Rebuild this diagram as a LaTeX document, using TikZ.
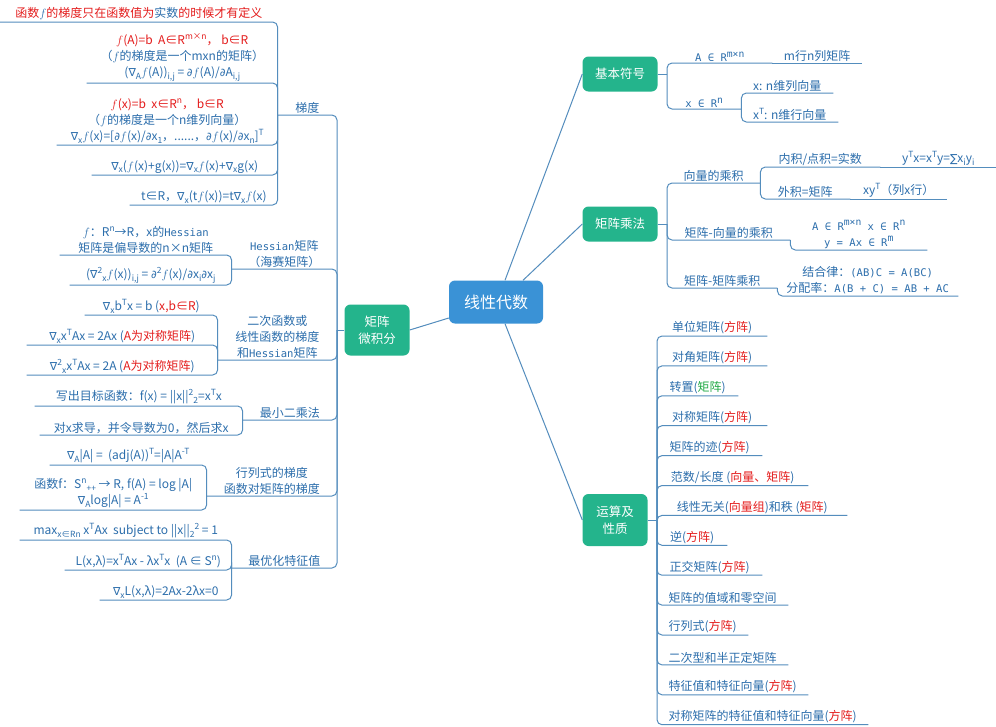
\documentclass[tikz,border=0pt]{standalone}
\usepackage{fontspec}
\setmainfont{Noto Sans CJK SC}
\newfontfamily\monof[Scale=0.88]{DejaVu Sans Mono}
\newfontfamily\symf[Scale=0.92]{DejaVu Sans}

\definecolor{linkblue}{RGB}{84,141,189}
\definecolor{txtblue}{RGB}{44,110,172}
\definecolor{hlred}{RGB}{228,28,28}
\definecolor{hlgreen}{RGB}{34,170,70}
\definecolor{boxteal}{RGB}{36,180,140}
\definecolor{boxblue}{RGB}{58,146,214}

\newcommand\rd[1]{\textcolor{hlred}{#1}}
\newcommand\gn[1]{\textcolor{hlgreen}{#1}}
\newcommand\su[1]{\raisebox{0.42em}{\fontsize{8.5}{9}\selectfont#1}}
\newcommand\sd[1]{\raisebox{-0.22em}{\fontsize{8.5}{9}\selectfont#1}}
\newcommand\msu[1]{\raisebox{0.4em}{\fontsize{11}{11}\selectfont#1}}
\newcommand\fn{\ensuremath{f}}
\newcommand\pd{{\symf ∂}}
\newcommand\nb{{\symf ∇}}

\tikzset{
  link/.style={draw=linkblue, line width=1pt, rounded corners=5pt},
  hub/.style={fill=boxblue, text=white, rounded corners=6pt, minimum width=94pt,
    minimum height=43pt, font=\fontsize{16}{19}\selectfont},
  topic/.style={fill=boxteal, text=white, rounded corners=6pt, minimum width=75pt,
    minimum height=35pt, align=center, font=\fontsize{12.5}{17}\selectfont},
  leaf/.style={minimum width=#1, inner xsep=0pt, inner ysep=1.5pt, align=center,
    text=txtblue, font=\fontsize{12}{16}\selectfont},
}

\begin{document}
\begin{tikzpicture}[x=1pt,y=-1pt]
  \path[fill=white] (0,0) rectangle (996,726);
  \useasboundingbox (0,0) rectangle (996,726);

  % centre and main topics
  \node[hub] (la) at (496,302) {线性代数};
  \node[topic] (basic) at (620,74) {基本符号};
  \node[topic] (mult) at (620,224) {矩阵乘法};
  \node[topic, minimum width=65pt, minimum height=52pt] (ops) at (615,520) {运算及\\性质};
  \node[topic, minimum width=65pt, minimum height=51pt] (calc) at (377,330) {矩阵\\微积分};

  \draw[link] ([xshift=9pt]la.north) -- (basic.west);
  \draw[link] ([xshift=27pt]la.north) -- (mult.west);
  \draw[link] ([xshift=9pt]la.south) -- (ops.west);
  \draw[link] ([yshift=-16pt]la.west) -- (calc.east);

  \coordinate (symfork) at (667,74);
  \coordinate (multfork) at (667,224);
  \coordinate (opsfork) at (657,520);
  \coordinate (calcfork) at (337,330);
  \draw[link] (basic.east) -- (symfork);
  \draw[link] (mult.east) -- (multfork);
  \draw[link] (ops.east) -- (opsfork);
  \draw[link] (calc.west) -- (calcfork);

  % basic notation
  \node[leaf=105, anchor=south west] (sym1) at (667,63) {\monof A ∈ R\msu{m×n}};
  \node[leaf=90, anchor=south west] (sym1a) at (772,63) {m行n列矩阵};
  \node[leaf=74, anchor=south west] (sym2) at (667,109) {\monof x ∈ R\msu{n}};
  \node[leaf=92, anchor=south west] (sym2a) at (741,93) {x: n维列向量};
  \node[leaf=97, anchor=south west] (sym2b) at (741,122) {x\su{T}: n维行向量};
  \draw[link] (symfork) |- (sym1.south east);
  \draw[link] (sym1.south east) -- (sym1a.south east);
  \draw[link] (symfork) |- (sym2.south east);
  \draw[link] (sym2.south east) |- (sym2a.south east);
  \draw[link] (sym2.south east) |- (sym2b.south east);

  % matrix multiplication
  \node[leaf=93, anchor=south west] (vec) at (667,183) {向量的乘积};
  \node[leaf=120, anchor=south west] (inner) at (760,167) {内积/点积=实数};
  \node[leaf=116, anchor=south west] (innerf) at (880,167) {y\su{T}x=x\su{T}y={\symf ∑}x\sd{i}y\sd{i}};
  \node[leaf=90, anchor=south west] (outer) at (760,199) {外积=矩阵};
  \node[leaf=97, anchor=south west] (outerf) at (850,199) {xy\su{T}（列x行）};
  \node[leaf=123, anchor=south west] (mv) at (667,240) {矩阵-向量的乘积};
  \node[leaf=137, anchor=south west] (mvf) at (790,250)
    {{\monof A ∈ R\msu{m×n} x ∈ R\msu{n}}\\{\monof y = Ax ∈ R\msu{m}}};
  \node[leaf=110, anchor=south west] (mm) at (667,288) {矩阵-矩阵乘积};
  \node[leaf=181, anchor=south west] (mmf) at (777,296)
    {结合律：{\monof (AB)C = A(BC)}\\分配率：{\monof A(B + C) = AB + AC}};
  \draw[link] (multfork) |- (vec.south east);
  \draw[link] (vec.south east) |- (inner.south east);
  \draw[link] (inner.south east) -- (innerf.south east);
  \draw[link] (vec.south east) |- (outer.south east);
  \draw[link] (outer.south east) -- (outerf.south east);
  \draw[link] (multfork) |- (mv.south east);
  \draw[link] (mv.south east) |- (mvf.south east);
  \draw[link] (multfork) |- (mm.south east);
  \draw[link] (mm.south east) |- (mmf.south east);

  % operations and properties
  \foreach [count=\i] \w/\t in {110/{单位矩阵(\rd{方阵})}, 110/{对角矩阵(\rd{方阵})},
      81/{转置(\gn{矩阵})}, 110/{对称矩阵(\rd{方阵})}, 105/{矩阵的迹(\rd{方阵})},
      151/{范数/长度 (\rd{向量、矩阵})}, 190/{线性无关(\rd{向量组})和秩 (\rd{矩阵})},
      70/{逆(\rd{方阵})}, 105/{正交矩阵(\rd{方阵})}, 131/{矩阵的值域和零空间},
      91/{行列式(\rd{方阵})}, 131/{二次型和半正定矩阵}, 151/{特征值和特征向量(\rd{方阵})},
      211/{对称矩阵的特征值和特征向量(\rd{方阵})}} {
    \node[leaf=\w, anchor=south west] (op\i) at (657,{336+(\i-1)*29.9}) {\t};
    \draw[link] (opsfork) |- (op\i.south east);
  };

  % matrix calculus
  \node[leaf=59, anchor=south east] (grad) at (337,115) {梯度};
  \node[leaf=105, anchor=south east] (hess) at (337,269) {{\monof Hessian}矩阵\\（海赛矩阵）};
  \node[leaf=119, anchor=south east] (quad) at (337,360) {二次函数或\\线性函数的梯度\\和{\monof Hessian}矩阵};
  \node[leaf=94, anchor=south east] (lsq) at (337,420) {最小二乘法};
  \node[leaf=130, anchor=south east] (det) at (337,496) {行列式的梯度\\函数对矩阵的梯度};
  \node[leaf=105, anchor=south east] (eig) at (337,568) {最优化特征值};
  \foreach \n in {grad,hess,quad,lsq,det,eig} {
    \draw[link] (calcfork) |- (\n.south west);
  };

  \node[leaf=278, anchor=south east] (g1) at (278,22)
    {\rd{函数}\fn\rd{的梯度只在函数值为}实数\rd{的时候才有定义}};
  \node[leaf=191, anchor=south east] (g2) at (278,83)
    {\rd{\fn(A)=b\ \ A∈R\su{m×n}，\ b∈R}\\（\fn 的梯度是一个mxn的矩阵）\\(\nb\sd{A}\fn(A))\sd{i,j} = \pd\fn(A)/\pd{}A\sd{i,j}};
  \node[leaf=221, anchor=south east] (g3) at (278,145)
    {\rd{\fn(x)=b\ \ x∈R\su{n}，\ b∈R}\\（\fn 的梯度是一个n维列向量）\\\nb\sd{x}\fn(x)=[\pd\fn(x)/\pd{}x\sd{1}，......，\pd\fn(x)/\pd{}x\sd{n}]\su{T}};
  \node[leaf=186, anchor=south east] (g4) at (278,175) {\nb\sd{x}(\fn(x)+g(x))=\nb\sd{x}\fn(x)+\nb\sd{x}g(x)};
  \node[leaf=148, anchor=south east] (g5) at (278,205) {t∈R，\nb\sd{x}(t\fn(x))=t\nb\sd{x}\fn(x)};
  \foreach \n in {g1,g2,g3,g4,g5} {
    \draw[link] (grad.south west) |- (\n.south west);
  };

  \node[leaf=172, anchor=south east] (h1) at (232,255)
    {\fn：R\su{n}→R，x的{\monof Hessian}\\矩阵是偏导数的n×n矩阵};
  \node[leaf=162, anchor=south east] (h2) at (232,285)
    {(\nb\su{2}\sd{x}\fn(x))\sd{i,j} = \pd\su{2}\fn(x)/\pd{}x\sd{i}\pd{}x\sd{j}};
  \foreach \n in {h1,h2} {
    \draw[link] (hess.south west) |- (\n.south west);
  };

  \node[leaf=133, anchor=south east] (q1) at (218,315) {\nb\sd{x}b\su{T}x = b\ (\rd{x,b∈R})};
  \node[leaf=191, anchor=south east] (q2) at (218,345) {\nb\sd{x}x\su{T}Ax = 2Ax\ (\rd{A为对称矩阵})};
  \node[leaf=191, anchor=south east] (q3) at (218,375) {\nb\su{2}\sd{x}x\su{T}Ax = 2A\ (\rd{A为对称矩阵})};
  \foreach \n in {q1,q2,q3} {
    \draw[link] (quad.south west) |- (\n.south west);
  };

  \node[leaf=208, anchor=south east] (l1) at (243,406) {写出目标函数：f(x) = ||x||\su{2}\sd{2}=x\su{T}x};
  \node[leaf=203, anchor=south east] (l2) at (243,435) {对x求导，并令导数为0，然后求x};
  \foreach \n in {l1,l2} {
    \draw[link] (lsq.south west) |- (\n.south west);
  };

  \node[leaf=157, anchor=south east] (d1) at (207,465) {\nb\sd{A}|A| = \ (adj(A))\su{T}=|A|A\su{-T}};
  \node[leaf=187, anchor=south east] (d2) at (207,510)
    {函数f：S\su{n}\sd{++} → R, f(A) = log |A|\\\nb\sd{A}log|A| = A\su{-1}};
  \foreach \n in {d1,d2} {
    \draw[link] (det.south west) |- (\n.south west);
  };

  \node[leaf=212, anchor=south east] (e1) at (232,540) {max\sd{x∈Rn}\ x\su{T}Ax\ \ subject to ||x||\sd{2}\su{2} = 1};
  \node[leaf=167, anchor=south east] (e2) at (232,570) {L(x,λ)=x\su{T}Ax - λx\su{T}x\ \ (A ∈\ S\su{n})};
  \node[leaf=132, anchor=south east] (e3) at (232,600) {\nb\sd{x}L(x,λ)=2Ax-2λx=0};
  \foreach \n in {e1,e2,e3} {
    \draw[link] (eig.south west) |- (\n.south west);
  };

\end{tikzpicture}
\end{document}
